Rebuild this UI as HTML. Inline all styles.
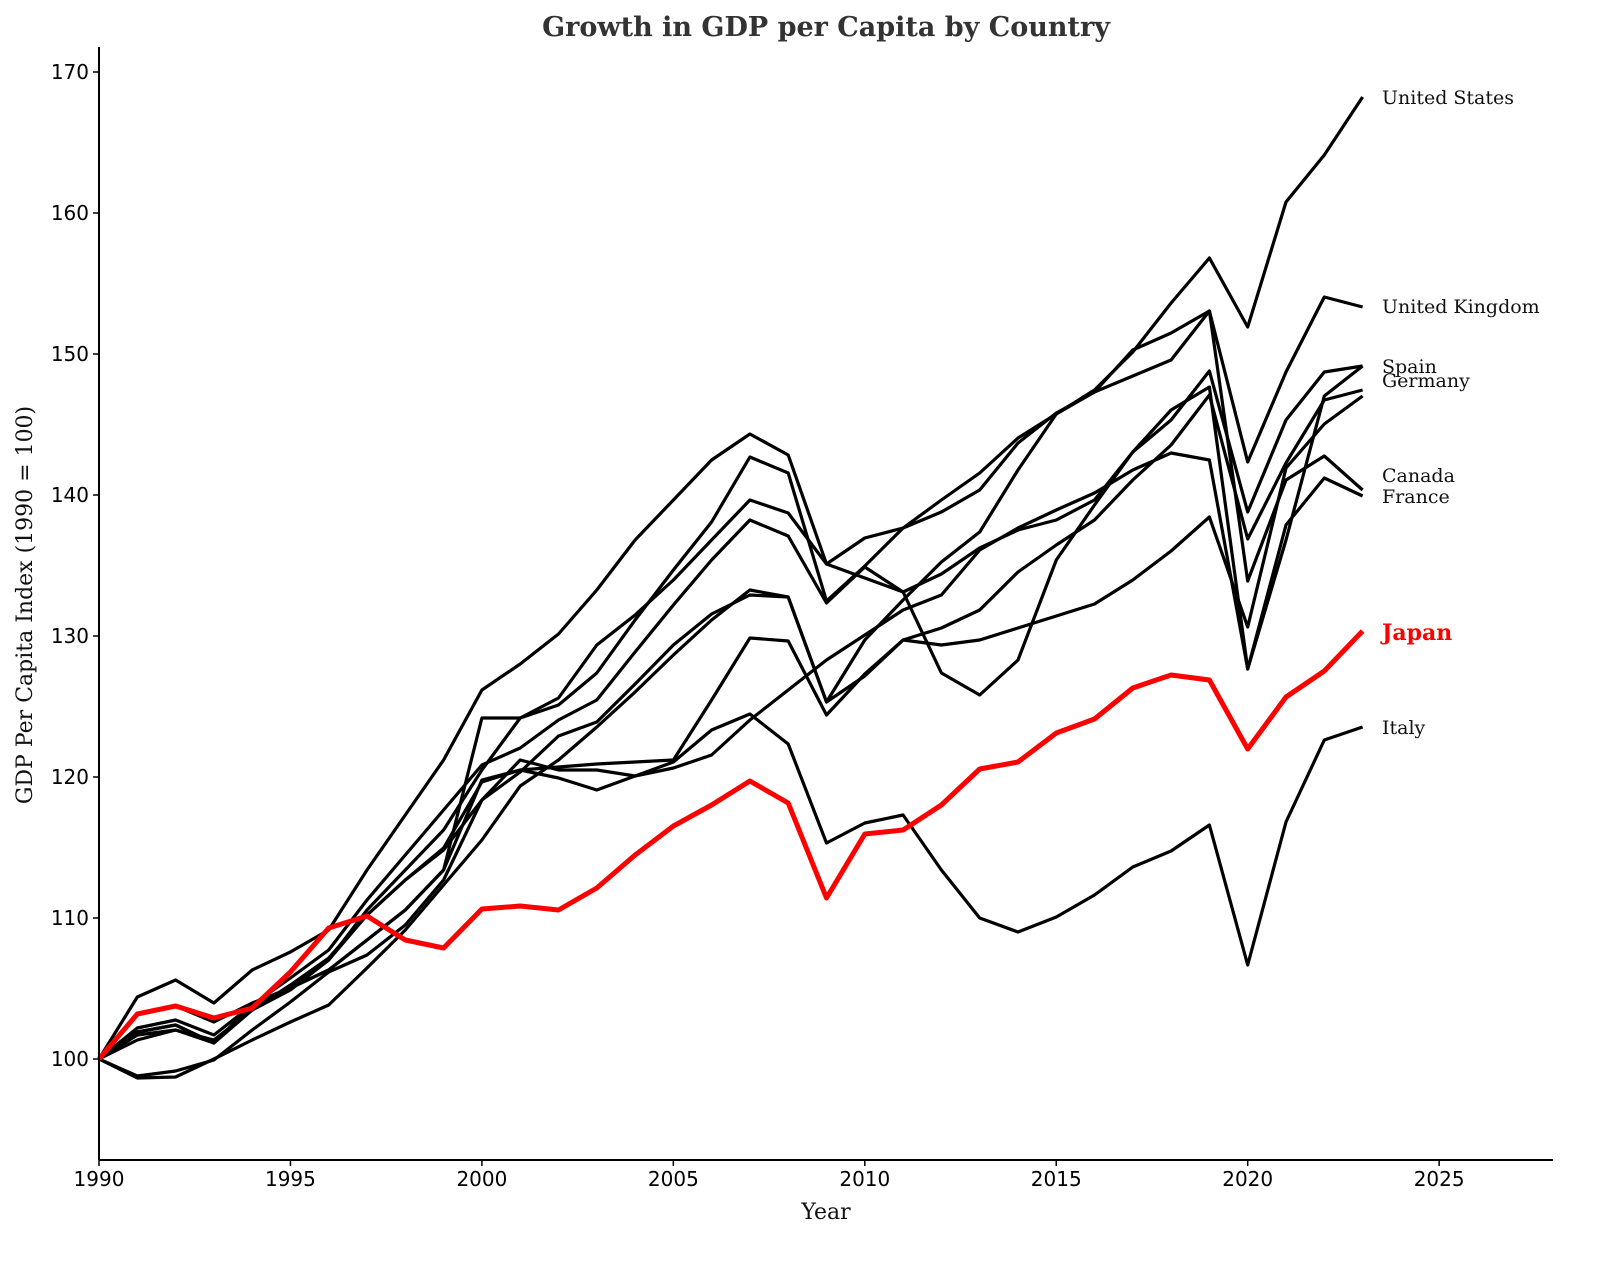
<!DOCTYPE html>
<html><head><meta charset="utf-8"><style>
html,body{margin:0;padding:0;background:#fff;}
svg{display:block;}
.sans{font-family:"DejaVu Sans","Liberation Sans",sans-serif;}
</style></head><body>
<svg id="s" width="1600" height="1261" viewBox="0 0 1600 1261" xmlns="http://www.w3.org/2000/svg">
<rect width="1600" height="1261" fill="#fff"/>
<text font-family="DejaVu Serif, Liberation Serif, serif" x="826" y="36" text-anchor="middle" font-size="27" font-weight="bold" fill="#333">Growth in GDP per Capita by Country</text>
<g id="lines" fill="none" stroke-linejoin="round"></g>
<line x1="99" y1="47" x2="99" y2="1160" stroke="#000" stroke-width="2"/>
<line x1="99" y1="1160" x2="1553" y2="1160" stroke="#000" stroke-width="2"/>
<g id="ticks" class="sans" font-family="DejaVu Sans, Liberation Sans, sans-serif" font-size="20" fill="#000"></g>
<text font-family="DejaVu Serif, Liberation Serif, serif" x="826" y="1219" text-anchor="middle" font-size="22" fill="#111">Year</text>
<text font-family="DejaVu Serif, Liberation Serif, serif" transform="translate(32,605) rotate(-90)" text-anchor="middle" font-size="22" fill="#111">GDP Per Capita Index (1990 = 100)</text>
<g font-family="DejaVu Serif, Liberation Serif, serif" font-size="19" fill="#111">
<text x="1382" y="104">United States</text>
<text x="1382" y="313">United Kingdom</text>
<text x="1382" y="373">Spain</text>
<text x="1382" y="387">Germany</text>
<text x="1382" y="482">Canada</text>
<text x="1382" y="503">France</text>
<text x="1382" y="734">Italy</text>
<text x="1382" y="640" font-size="22" font-weight="bold" fill="#f00">Japan</text>
</g>
</svg>
<script>
var NS="http://www.w3.org/2000/svg";
function X(i){return 99+38.29*i;}
var series=[
[1059,1078,1077,1059,1040,1022,1005,968,930,885,840,786,760,727,692,655,620,590,597,702,640,600,562,532,470,414,390,352,303,258,327,202,155,97],
[1059,1040,1030,1043,1010,990,960,910,870,830,770,718,698,645,615,580,540,500,513,564,538,528,512,490,443,413,392,350,333,311,462,372,297,307],
[1059,1028,1020,1035,1005,978,950,900,855,810,765,748,720,700,652,605,560,520,536,603,567,592,673,695,660,560,505,452,410,387,669,540,396,366],
[1059,997,980,1003,970,952,930,870,815,760,690,664,634,590,540,500,460,434,455,564,578,592,574,548,530,520,500,452,420,371,512,420,372,366],
[1059,1032,1025,1043,1005,988,970,940,910,870,718,718,705,673,620,570,522,457,473,601,566,528,500,473,438,414,392,376,360,311,581,480,456,490],
[1059,1035,1030,1040,1010,985,958,915,880,850,800,772,736,722,684,645,614,595,597,702,676,640,628,610,572,545,520,480,445,395,539,463,400,390],
[1059,1014,1006,1022,1003,988,960,915,880,848,782,770,767,764,762,760,700,638,641,715,674,640,645,640,628,616,604,580,551,517,627,468,424,396],
[1059,1032,1025,1043,1005,988,970,940,910,870,780,770,778,790,776,762,730,714,744,843,823,815,870,918,932,917,895,867,851,825,965,822,740,727],
[1059,1076,1071,1060,1030,1002,972,955,925,880,800,760,770,770,776,768,755,720,690,660,635,610,595,550,528,510,493,470,453,460,669,525,478,496]
];
var g=document.getElementById("lines");
function pl(arr,col,w){var p=document.createElementNS(NS,"polyline");
p.setAttribute("points",arr.map(function(y,i){return X(i).toFixed(1)+","+y}).join(" "));
p.setAttribute("stroke",col);p.setAttribute("stroke-width",w);g.appendChild(p);}
series.forEach(function(s){pl(s,"#000",3.2);});
pl([1059,1014,1006,1018,1008,972,928,916,940,948,909,906,910,888,855,826,805,781,803,898,834,830,805,769,762,733,719,688,675,680,749,697,671,631],"#f00",5);
var t=document.getElementById("ticks");
for(var v=100;v<=170;v+=10){var y=1059-(v-100)*14.1;
var l=document.createElementNS(NS,"line");l.setAttribute("x1",93);l.setAttribute("x2",99);l.setAttribute("y1",y);l.setAttribute("y2",y);l.setAttribute("stroke","#000");l.setAttribute("stroke-width",1.5);t.appendChild(l);
var tx=document.createElementNS(NS,"text");tx.setAttribute("x",89);tx.setAttribute("y",y+7);tx.setAttribute("text-anchor","end");tx.textContent=v;t.appendChild(tx);}
for(var yr=1990;yr<=2025;yr+=5){var x=99+(yr-1990)*38.29;
var l=document.createElementNS(NS,"line");l.setAttribute("x1",x);l.setAttribute("x2",x);l.setAttribute("y1",1160);l.setAttribute("y2",1166);l.setAttribute("stroke","#000");l.setAttribute("stroke-width",1.5);t.appendChild(l);
var tx=document.createElementNS(NS,"text");tx.setAttribute("x",x);tx.setAttribute("y",1186);tx.setAttribute("text-anchor","middle");tx.textContent=yr;t.appendChild(tx);}
</script>
</body></html>
